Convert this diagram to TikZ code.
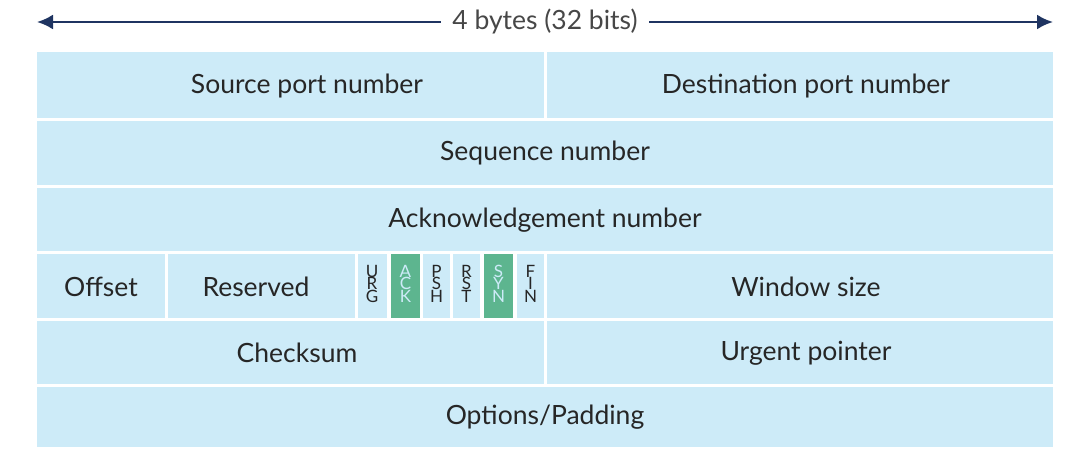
\documentclass[tikz,border=0pt]{standalone}
\usepackage{fontspec}
\setmainfont{Lato}
\usetikzlibrary{arrows.meta}
\definecolor{cellb}{HTML}{CDEBF8}
\definecolor{flagg}{HTML}{5DB58F}
\definecolor{navy}{HTML}{1F3461}
\definecolor{txt}{HTML}{262626}
\newcommand{\flagtxt}[3]{\fontsize{17}{15}\selectfont\begin{tabular}{@{}c@{}}#1\\[-4pt]#2\\[-4pt]#3\end{tabular}}
\begin{document}
\begin{tikzpicture}[x=1pt,y=-1pt,
  cell/.style={fill=cellb,draw=none},
  lab/.style={text=txt,font=\fontsize{26.5}{28}\selectfont,anchor=center},
  fl/.style={text=txt,anchor=center,inner sep=0pt},
  flw/.style={fl,text=cellb}]
\useasboundingbox (0,0) rectangle (1080,465);
% arrow
\node[lab,text=txt!85] (hdr) at (545,22) {4 bytes (32 bits)};
\coordinate (aL) at (37,22);
\coordinate (aR) at (1053,22);
\draw[navy,line width=2.4pt,-{Latex[length=16pt,width=15pt]}] (hdr.west) ++(-8,0) -- (aL);
\draw[navy,line width=2.4pt,-{Latex[length=16pt,width=15pt]}] (hdr.east) ++(8,0) -- (aR);
% row 1
\fill[cell] (37,52) rectangle (544,118); \fill[cell] (547,52) rectangle (1053,118);
\node[lab] (src) at (307,86) {Source port number};
\node[lab] (dst) at (806,86) {Destination port number};
% row 2
\fill[cell] (37,121) rectangle (1053,185);
\node[lab] (seq) at (545,153) {Sequence number};
% row 3
\fill[cell] (37,188) rectangle (1053,251);
\node[lab] (ack) at (545,220) {Acknowledgement number};
% row 4
\fill[cell] (37,254) rectangle (165,318);
\fill[cell] (168,254) rectangle (355,318);
\node[lab] (off) at (101,287) {Offset};
\node[lab] (res) at (256,287) {Reserved};
\fill[cell] (358,254) rectangle (387,318);
\fill[flagg] (391,254) rectangle (420,318);
\fill[cell] (423,254) rectangle (450,318);
\fill[cell] (453,254) rectangle (480,318);
\fill[flagg] (484,254) rectangle (513,318);
\fill[cell] (517,254) rectangle (544,318);
\node[fl] (urg) at (372,286) {\flagtxt URG};
\node[flw] (ackf) at (405.5,286) {\flagtxt ACK};
\node[fl] (psh) at (436.5,286) {\flagtxt PSH};
\node[fl] (rst) at (466.5,286) {\flagtxt RST};
\node[flw] (syn) at (498.5,286) {\flagtxt SYN};
\node[fl] (fin) at (530.5,286) {\flagtxt FIN};
\fill[cell] (547,254) rectangle (1053,318);
\node[lab] (win) at (806,287) {Window size};
% row 5
\fill[cell] (37,321) rectangle (544,384); \fill[cell] (547,321) rectangle (1053,384);
\node[lab] (chk) at (297,353) {Checksum};
\node[lab] (urgp) at (806,353) {Urgent pointer};
% row 6
\fill[cell] (37,387) rectangle (1053,447);
\node[lab] (opt) at (545,417) {Options/Padding};
\end{tikzpicture}
\end{document}
